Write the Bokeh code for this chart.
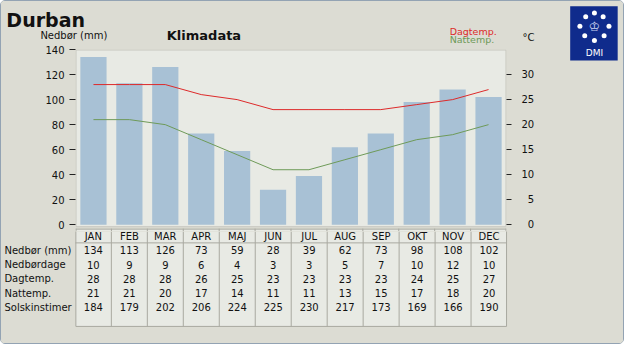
from bokeh.plotting import figure
from bokeh.layouts import row, column
from bokeh.models import Range1d, LinearAxis, FixedTicker, ColumnDataSource
from bokeh.embed import file_html
from bokeh.resources import INLINE
from bokeh.core.properties import value

# ---------------- data ----------------
months = ["JAN", "FEB", "MAR", "APR", "MAJ", "JUN", "JUL", "AUG", "SEP", "OKT", "NOV", "DEC"]
precip = [134, 113, 126, 73, 59, 28, 39, 62, 73, 98, 108, 102]
rain_days = [10, 9, 9, 6, 4, 3, 3, 5, 7, 10, 12, 10]
day_temp = [28, 28, 28, 26, 25, 23, 23, 23, 23, 24, 25, 27]
night_temp = [21, 21, 20, 17, 14, 11, 11, 13, 15, 17, 18, 20]
sun_hours = [184, 179, 202, 206, 224, 225, 230, 217, 173, 169, 166, 190]
row_labels = ["Nedbør (mm)", "Nedbørdage", "Dagtemp.", "Nattemp.", "Solskinstimer"]
left_ticks = [0, 20, 40, 60, 80, 100, 120, 140]
right_ticks = [0, 5, 10, 15, 20, 25, 30]

# ---------------- layout / style (reference-pixel coordinates) ----------------
W, H = 622, 342
SX, SY = W / 640, H / 360
XS = 575                               # split between main column and logo column
YA, YB = 46, 242                       # splits: header band / chart / table
FL, FR, FT, FB = 76, 520, 51, YB       # chart frame edges
Y0 = 235                               # pixel of value 0
k = (Y0 - FT) / 140.0
ymin = -(FB - Y0) / k


def yd(ref_y):
    """reference pixel row -> precipitation axis units (layout positions only)"""
    return (Y0 - ref_y) / k


BG = "#dcdcd3"
PLOT_BG = "#e8eae4"
BAR = "#a8c1d5"
RED = "#dd2a2a"
GREEN = "#6e9a58"
TBL_LINE = "#a9a9a0"
PLOT_LINE = "#c6c6be"
EDGE = "#93a3b3"
TXT = "#111111"
FONT = "DejaVu Sans"
CSS_BG = {"background-color": BG}


def px(v, s):
    return round(v * s)


def no_align(f):
    try:
        f.frame_align = False
    except Exception:
        pass


def make_fig(x0, x1, y0, y1, **kw):
    w = px(x1, SX) - px(x0, SX)
    h = px(y1, SY) - px(y0, SY)
    opts = dict(x_range=Range1d(x0, x1), y_range=Range1d(y1, y0))
    opts.update(kw)
    f = figure(width=w, height=h, output_backend="svg", toolbar_location=None,
               x_axis_location=None, y_axis_location=None,
               background_fill_color=BG, border_fill_color=BG, outline_line_color=None,
               min_border=0, styles=CSS_BG, **opts)
    f.grid.visible = False
    no_align(f)
    return f


def txt(f, x, y, text, size="10px", color=TXT, style="normal", align="left", **kw):
    xs = x if isinstance(x, list) else [x]
    ys = y if isinstance(y, list) else [y]
    ts = text if isinstance(text, list) else [text]
    f.text(x=xs, y=ys, text=ts, text_font=value(FONT), text_font_size=size, text_color=color,
           text_font_style=style, text_align=align, text_baseline="middle", **kw)


# ---------------- header band ----------------
top = make_fig(0, XS, 0, YA)
txt(top, 5, 19.5, "Durban", size="19px", style="bold")
txt(top, 40, 35.5, "Nedbør (mm)")
txt(top, 170, 35.5, "Klimadata", size="13px", style="bold")
txt(top, 461, 31.5, "Dagtemp.", size="9.5px", color=RED)
txt(top, 461, 40, "Nattemp.", size="9.5px", color=GREEN)
txt(top, 536, 38, "°C")

# ---------------- chart ----------------
main_h = px(YB, SY) - px(YA, SY)
main_w = px(XS, SX)
main = figure(width=main_w, height=main_h, output_backend="svg", toolbar_location=None,
              x_range=Range1d(-0.5, 11.5), y_range=Range1d(ymin, 140),
              x_axis_location=None, y_axis_location=None,
              min_border_left=px(FL, SX), min_border_right=main_w - px(FR, SX),
              min_border_top=px(FT, SY) - px(YA, SY), min_border_bottom=0,
              background_fill_color=BG, border_fill_color=BG,
              outline_line_color=None, styles=CSS_BG)
main.grid.visible = False
no_align(main)
main.extra_y_ranges = {"temp": Range1d(ymin / 4.0, 35)}

# plot area background
main.quad(left=-0.5 + 0.014, right=11.5 - 0.014, top=140 - 0.4, bottom=yd(237),
          fill_color=PLOT_BG, line_color=PLOT_LINE, line_width=1)
# upper strip of the table (continues in the table figure)
main.quad(left=-0.5, right=11.5, top=yd(239), bottom=ymin, fill_color=PLOT_BG, line_color=None)
main.segment(x0=[-0.5], x1=[11.5], y0=[yd(239.5)], y1=[yd(239.5)], line_color=TBL_LINE, line_width=1)
idx = list(range(len(months)))
sep_x = [-0.5 + 0.014] + [i + 0.5 for i in idx[:-1]] + [11.5 - 0.014]
main.segment(x0=sep_x, x1=sep_x, y0=yd(239), y1=ymin, line_color=TBL_LINE, line_width=1)

main.vbar(x=idx, top=precip, bottom=0, width=0.73, fill_color=BAR, line_color=None)
main.line(idx, day_temp, y_range_name="temp", line_color=RED, line_width=1)
main.line(idx, night_temp, y_range_name="temp", line_color=GREEN, line_width=1)

la = LinearAxis(ticker=FixedTicker(ticks=left_ticks))
ra = LinearAxis(y_range_name="temp", ticker=FixedTicker(ticks=right_ticks),
                major_label_overrides={t: ("\u2007" if t < 10 else "") + str(t) for t in right_ticks})
for ax in (la, ra):
    ax.axis_line_color = None
    ax.major_tick_in = 0
    ax.minor_tick_in = 0
    ax.minor_tick_out = 0
    ax.major_tick_line_color = "#222222"
    ax.major_label_text_font = FONT
    ax.major_label_text_font_size = "10px"
    ax.major_label_text_color = TXT
la.major_tick_out = 6
la.major_label_standoff = 5
ra.major_tick_out = 5
ra.major_label_standoff = 10
main.add_layout(la, "left")
main.add_layout(ra, "right")

# ---------------- table ----------------
tab = make_fig(0, XS, YB, 360)
tab.quad(left=FL + 0.5, right=FR - 0.5, top=YB - 2, bottom=342, fill_color=PLOT_BG,
         line_color=TBL_LINE, line_width=1)
tab.segment(x0=[FL], x1=[FR], y0=[254], y1=[254], line_color=TBL_LINE, line_width=1)
col_w = (FR - FL) / 12.0
vx = [FL + col_w * (i + 1) for i in idx[:-1]]
tab.segment(x0=vx, x1=vx, y0=YB, y1=342, line_color=TBL_LINE, line_width=1)

row_y = [247, 262, 277, 292, 307, 322]
rows = [months, precip, rain_days, day_temp, night_temp, sun_hours]
tx, ty, tt = [], [], []
for r, vals in enumerate(rows):
    for i, v in enumerate(vals):
        tx.append(FL + col_w * (i + 0.5))
        ty.append(row_y[r])
        tt.append(str(v))
src = ColumnDataSource(dict(x=tx, y=ty, t=tt))
tab.text(x="x", y="y", text="t", source=src, text_align="center", text_baseline="middle",
         text_font=value(FONT), text_font_size="10px", text_color=TXT)
txt(tab, [3] * len(row_labels), row_y[1:], row_labels)

# ---------------- logo column ----------------
logo = make_fig(XS, 640, 0, 360)
logo.quad(left=585, right=634, top=5, bottom=62, fill_color="#0f2b8c", line_color=None)
dot_x = [610, 601, 619, 595, 625, 600, 620, 610]
dot_y = [12, 16, 16, 26, 26, 36, 36, 41]
logo.scatter(dot_x, dot_y, size=5, marker="circle", fill_color="white", line_color=None)
txt(logo, 610, 26, "♔", size="13px", color="#c9d3f0", align="center")
txt(logo, 610, 54, "DMI", size="9px", color="white", align="center")

left_col = column(top, main, tab, spacing=0, styles=CSS_BG)
layout = row(left_col, logo, spacing=0,
             styles={"background-color": BG, "border": "1px solid " + EDGE,
                     "border-radius": "5px", "overflow": "hidden"})
open("out.html", "w").write(file_html(layout, INLINE))
